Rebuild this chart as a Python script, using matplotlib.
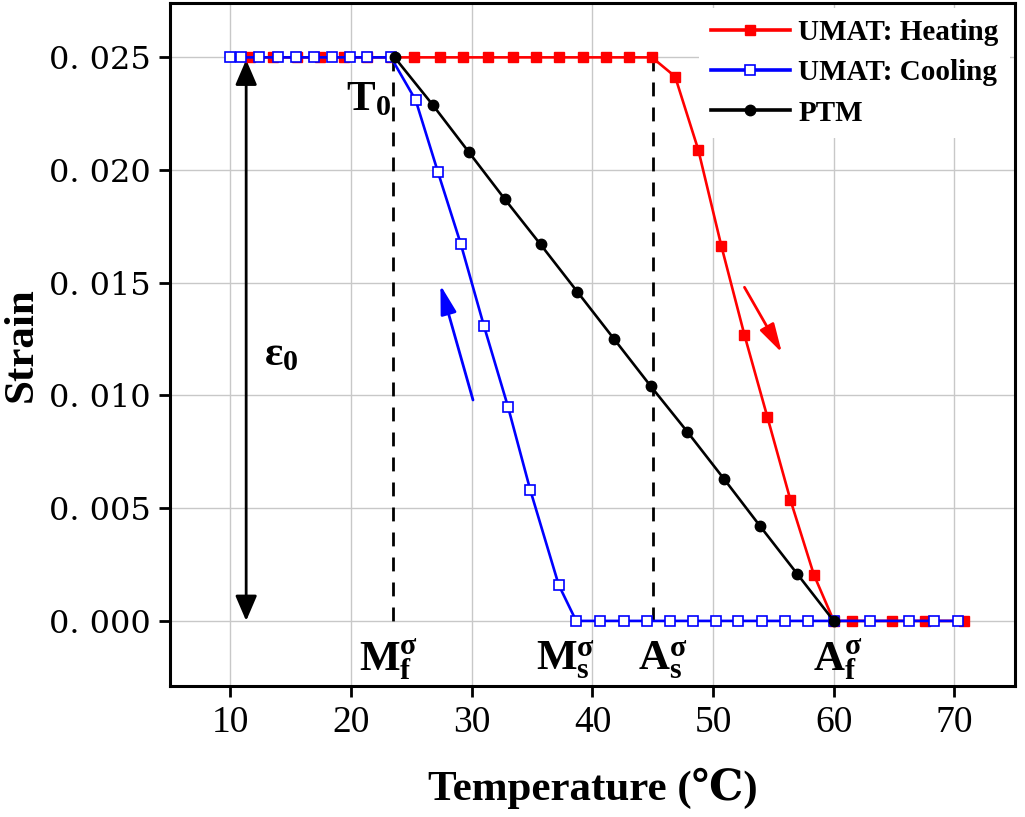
"""
Strain-temperature response: UMAT heating / cooling vs PTM.
"""

import matplotlib
matplotlib.use("Agg")
import matplotlib.pyplot as plt

# UMAT heating branch (red, filled squares)
heat_T = [11.6, 13.5, 15.5, 17.4, 19.4, 21.3, 23.3, 25.25, 27.4, 29.3, 31.35,
          33.4, 35.3, 37.25, 39.2, 41.1, 43.0, 44.93, 46.85, 48.77, 50.68,
          52.6, 54.5, 56.4, 58.35, 60.0, 61.5, 64.8, 67.6, 70.8]
heat_strain = [0.025] * 18 + [0.02415, 0.0209, 0.01664, 0.01268, 0.00904,
                              0.00538, 0.00205, 0.0, 0.0, 0.0, 0.0, 0.0]

# UMAT cooling branch (blue, hollow squares)
cool_T = [10.0, 10.9, 12.4, 13.9, 15.4, 16.9, 18.4, 19.9, 21.3, 23.3, 25.35,
          27.2, 29.1, 31.0, 33.0, 34.85, 37.2, 38.65, 40.6, 42.6, 44.55, 46.4,
          48.3, 50.2, 52.1, 54.05, 55.95, 57.9, 60.0, 63.0, 66.2, 68.3, 70.3]
cool_strain = [0.025] * 10 + [0.0231, 0.0199, 0.0167, 0.0131, 0.0095, 0.0058,
                              0.0016] + [0.0] * 16

# PTM (black circles)
ptm_T = [23.6, 26.75, 29.75, 32.75, 35.7, 38.75, 41.8, 44.85, 47.85, 50.9,
         53.9, 56.95, 60.0]
ptm_strain = [0.025, 0.0229, 0.0208, 0.0187, 0.0167, 0.0146, 0.0125, 0.0104,
              0.0084, 0.0063, 0.0042, 0.0021, 0.0]

x_ticks = [10, 20, 30, 40, 50, 60, 70]
y_ticks = [0.0, 0.005, 0.010, 0.015, 0.020, 0.025]
y_tick_labels = ['0. 000', '0. 005', '0. 010', '0. 015', '0. 020', '0. 025']

# characteristic temperatures
T_Mf = 23.5
T_As = 45.0
EPS0_T = 11.3

plt.rcParams['font.family'] = ['Liberation Serif', 'DejaVu Serif']
plt.rcParams['mathtext.fontset'] = 'custom'
plt.rcParams['mathtext.rm'] = 'Liberation Serif'
plt.rcParams['mathtext.it'] = 'Liberation Serif:italic'
plt.rcParams['mathtext.bf'] = 'Liberation Serif:bold'

fig = plt.figure(figsize=(10.25, 8.17), dpi=100)
ax = fig.add_axes([0.166, 0.160, 0.824, 0.836])

ax.grid(True, color='#c8c8c8', linewidth=1.0, zorder=0)
ax.set_axisbelow(True)

ax.plot(heat_T, heat_strain, '-s', color='#ff0000', lw=1.9, ms=7.5,
        mec='#ff0000', mfc='#ff0000', label='UMAT: Heating', zorder=3)
ax.plot(cool_T, cool_strain, '-s', color='#0000ff', lw=1.9, ms=7,
        mec='#0000ff', mfc='white', mew=1.2, label='UMAT: Cooling', zorder=4)
ax.plot(ptm_T, ptm_strain, '-o', color='black', lw=1.9, ms=7.5,
        label='PTM', zorder=5)

# dashed markers for Mf and As
ax.plot([T_Mf, T_Mf], [0.025, -0.0005], '--', color='black', lw=2,
        dashes=(5, 4), zorder=2)
ax.plot([T_As, T_As], [0.025, -0.0002], '--', color='black', lw=2,
        dashes=(5, 4), zorder=2)

# epsilon_0 double arrow
ax.annotate('', xy=(EPS0_T, 0.0), xytext=(EPS0_T, 0.0249),
            arrowprops=dict(arrowstyle='<|-|>,head_length=0.7,head_width=0.3',
                            color='black', lw=2, mutation_scale=22,
                            shrinkA=0, shrinkB=0),
            zorder=2)

# direction arrows
arrow_style = '-|>,head_length=0.8,head_width=0.22'
ax.annotate('', xy=(55.7, 0.0119), xytext=(52.6, 0.0148),
            arrowprops=dict(arrowstyle=arrow_style, color='#ff0000', lw=2,
                            mutation_scale=22, shrinkA=0, shrinkB=0))
ax.annotate('', xy=(27.4, 0.0149), xytext=(30.1, 0.0098),
            arrowprops=dict(arrowstyle=arrow_style, color='#0000ff', lw=2,
                            mutation_scale=22, shrinkA=0, shrinkB=0))

lab_fs = 31
ax.text(21.4, 0.0231, r'$\mathbf{T_0}$', fontsize=lab_fs, ha='center',
        va='center')
ax.text(14.2, 0.0118, r'$\mathbf{\varepsilon_0}$', fontsize=lab_fs,
        ha='center', va='center')
ax.text(T_Mf - 0.4, -0.0017, r'$\mathbf{M_f^\sigma}$', fontsize=lab_fs,
        ha='center', va='center')
ax.text(37.8, -0.0017, r'$\mathbf{M_s^\sigma}$', fontsize=lab_fs,
        ha='center', va='center')
ax.text(45.8, -0.0017, r'$\mathbf{A_s^\sigma}$', fontsize=lab_fs,
        ha='center', va='center')
ax.text(60.3, -0.0017, r'$\mathbf{A_f^\sigma}$', fontsize=lab_fs,
        ha='center', va='center')

ax.set_xlim(5, 75)
ax.set_ylim(-0.0029, 0.0274)
ax.set_xticks(x_ticks)
ax.set_yticks(y_ticks)
ax.set_yticklabels(y_tick_labels, family='DejaVu Serif', fontsize=23)
ax.tick_params(axis='x', labelsize=27)
ax.tick_params(axis='both', direction='out', length=8, width=2, pad=6)

for s in ax.spines.values():
    s.set_linewidth(2.2)
    s.set_color('black')

ax.set_xlabel('Temperature (℃)', fontsize=31, fontweight='bold',
              labelpad=20)
ax.set_ylabel('Strain', fontsize=31, fontweight='bold', labelpad=6,
              family=['Liberation Serif', 'DejaVu Serif'])

leg = ax.legend(loc='upper right', frameon=True, handlelength=2.7,
                handletextpad=0.3, borderaxespad=0.15, labelspacing=0.45,
                prop={'weight': 'bold', 'size': 21})
leg.get_frame().set_edgecolor('none')
leg.get_frame().set_facecolor('white')
leg.get_frame().set_alpha(1.0)
for line in leg.get_lines():
    line.set_linewidth(2.6)

fig.savefig('out.png', dpi=100)
